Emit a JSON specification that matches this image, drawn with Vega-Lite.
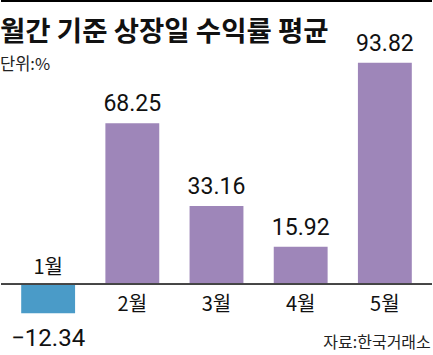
{
  "$schema": "https://vega.github.io/schema/vega-lite/v6.json",
  "width": 433,
  "height": 355,
  "autosize": {"type": "fit", "contains": "padding"},
  "padding": 0,
  "background": "white",
  "title": {
    "text": "월간 기준 상장일 수익률 평균",
    "subtitle": "단위:%",
    "anchor": "start",
    "frame": "group",
    "offset": -73,
    "font": "Noto Sans CJK KR",
    "fontSize": 27.5,
    "fontWeight": "bold",
    "color": "#111111",
    "subtitleFont": "Noto Sans CJK KR",
    "subtitleFontSize": 16.5,
    "subtitleColor": "#222222",
    "subtitlePadding": 10,
    "dx": -1
  },
  "config": {"view": {"stroke": null}},
  "data": {
    "values": [
      {"month": "1월", "value": -12.34},
      {"month": "2월", "value": 68.25},
      {"month": "3월", "value": 33.16},
      {"month": "4월", "value": 15.92},
      {"month": "5월", "value": 93.82}
    ]
  },
  "encoding": {
    "x": {
      "field": "month",
      "type": "nominal",
      "sort": null,
      "axis": null,
      "scale": {"paddingInner": 0.36, "paddingOuter": 0.24}
    }
  },
  "layer": [
    {
      "mark": {"type": "bar"},
      "encoding": {
        "y": {"field": "value", "type": "quantitative", "axis": null, "scale": {"domain": [-30, 120], "nice": false, "zero": false}},
        "color": {
          "condition": {"test": "datum.value < 0", "value": "#4A9BC8"},
          "value": "#9E86B9"
        }
      }
    },
    {
      "mark": {"type": "rule", "color": "#444444", "strokeWidth": 1.5},
      "encoding": {"x": null, "y": {"datum": 0, "type": "quantitative"}}
    },
    {
      "mark": {"type": "rule", "color": "#000000", "strokeWidth": 2},
      "encoding": {"x": null, "y": {"datum": 120, "type": "quantitative"}}
    },
    {
      "transform": [{"filter": "datum.value > 0"}],
      "mark": {"type": "text", "baseline": "alphabetic", "dy": -12, "font": "Roboto", "fontSize": 23, "color": "#111111"},
      "encoding": {
        "y": {"field": "value", "type": "quantitative"},
        "text": {"field": "value", "type": "quantitative", "format": ".2f"}
      }
    },
    {
      "transform": [{"filter": "datum.value < 0"}],
      "mark": {"type": "text", "baseline": "alphabetic", "dy": 33, "font": "Roboto", "fontSize": 24, "color": "#111111"},
      "encoding": {
        "y": {"field": "value", "type": "quantitative"},
        "text": {"field": "value", "type": "quantitative", "format": ".2f"}
      }
    },
    {
      "transform": [{"filter": "datum.value > 0"}],
      "mark": {"type": "text", "baseline": "alphabetic", "dy": 27, "font": "Noto Sans CJK KR", "fontSize": 20, "color": "#111111"},
      "encoding": {
        "y": {"datum": 0, "type": "quantitative"},
        "text": {"field": "month", "type": "nominal"}
      }
    },
    {
      "transform": [{"filter": "datum.value < 0"}],
      "mark": {"type": "text", "baseline": "alphabetic", "dy": -10, "font": "Noto Sans CJK KR", "fontSize": 20, "color": "#111111"},
      "encoding": {
        "y": {"datum": 0, "type": "quantitative"},
        "text": {"field": "month", "type": "nominal"}
      }
    },
    {
      "transform": [{"filter": "datum.month == '5월'"}],
      "mark": {"type": "text", "align": "right", "baseline": "alphabetic", "dx": 19, "font": "Noto Sans CJK KR", "fontSize": 16, "color": "#222222"},
      "encoding": {
        "x": {"field": "month", "type": "nominal", "bandPosition": 1},
        "y": {"datum": -27, "type": "quantitative"},
        "text": {"value": "자료:한국거래소"}
      }
    }
  ]
}
